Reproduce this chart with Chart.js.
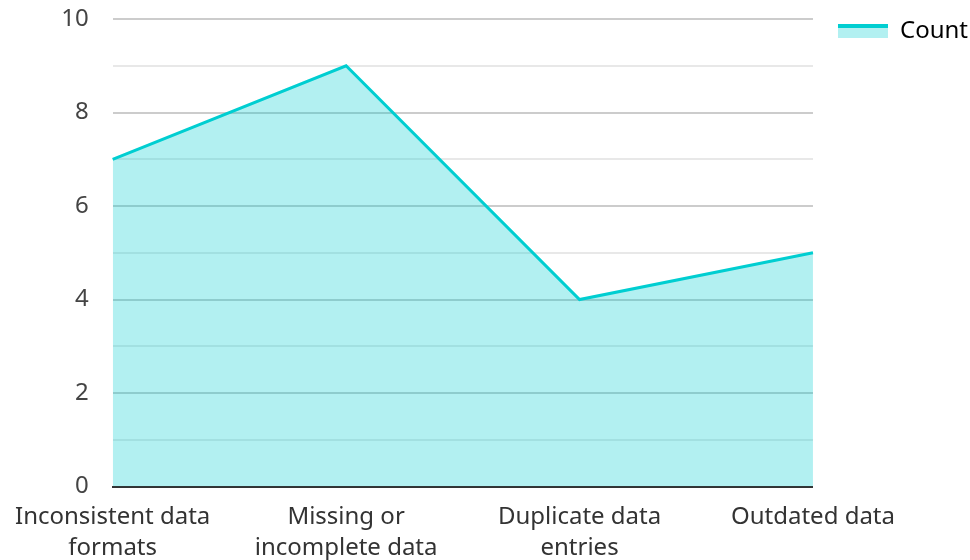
<!DOCTYPE html>
<html>
<head>
<meta charset="utf-8">
<script src="https://cdn.jsdelivr.net/npm/chart.js@4"></script>
<style>
  html, body { margin: 0; padding: 0; background: #fff; }
  #wrap { width: 970px; height: 560px; }
</style>
</head>
<body>
<div id="wrap"><canvas id="myChart"></canvas></div>
<script>
const categories = [
    ['Inconsistent data', 'formats'],
    ['Missing or', 'incomplete data'],
    ['Duplicate data', 'entries'],
    'Outdated data'
];
const counts = [7, 9, 4, 5];
const yTicks = [0, 2, 4, 6, 8, 10];

const lineColor = '#00ced1';
const fillColor = 'rgba(0, 206, 209, 0.3)';

Chart.defaults.font.family = '"Noto Sans", sans-serif';
Chart.defaults.font.size = 24;
Chart.defaults.color = '#444';

// legend box: light fill with a line along the top only
const legendTopLine = {
    id: 'legendTopLine',
    afterDraw(chart) {
        const legend = chart.legend;
        if (!legend || !legend.legendHitBoxes.length) return;
        const box = legend.legendHitBoxes[0];
        const ctx = chart.ctx;
        const bw = legend.options.labels.boxWidth;
        const bh = legend.options.labels.boxHeight;
        const top = box.top + (box.height - bh) / 2;
        ctx.save();
        ctx.fillStyle = lineColor;
        ctx.fillRect(box.left, top, bw, 4);
        ctx.restore();
    }
};

const data = {
    labels: categories,
    datasets: [{
        label: 'Count',
        data: counts,
        borderColor: lineColor,
        backgroundColor: fillColor,
        borderWidth: 3,
        fill: 'origin',
        pointRadius: 0,
        tension: 0
    }]
};

const config = {
    type: 'line',
    data: data,
    plugins: [legendTopLine],
    options: {
        responsive: true,
        maintainAspectRatio: false,
        animation: false,
        layout: { padding: { left: 0, right: -8, top: 7, bottom: -19 } },
        plugins: {
            tooltip: { enabled: false },
            legend: {
                position: 'right',
                align: 'start',
                labels: {
                    boxWidth: 50,
                    boxHeight: 14,
                    color: '#333',
                    padding: 12,
                    generateLabels(chart) {
                        return [{
                            text: 'Count',
                            fillStyle: fillColor,
                            strokeStyle: 'rgba(0,0,0,0)',
                            lineWidth: 0,
                            datasetIndex: 0
                        }];
                    }
                }
            }
        },
        scales: {
            x: {
                offset: false,
                grid: { display: false, drawTicks: false },
                border: { display: true, color: '#333', width: 2 },
                ticks: { color: '#333', padding: 15, maxRotation: 0, autoSkip: false, font: { lineHeight: 1.3 } }
            },
            y: {
                min: 0,
                max: 10,
                afterBuildTicks(scale) {
                    const t = [];
                    for (let v = 0; v <= 10; v++) t.push({ value: v });
                    scale.ticks = t;
                },
                afterFit(scale) {
                    scale.paddingTop = 19;
                    scale.paddingBottom = 0;
                },
                grid: {
                    drawTicks: false,
                    color: ctx => (yTicks.includes(ctx.tick.value) ? '#cccccc' : '#e8e8e8'),
                    lineWidth: 2
                },
                border: { display: false },
                ticks: {
                    color: '#444',
                    padding: 24,
                    callback: v => (yTicks.includes(v) ? v : '')
                }
            },
            // empty strip between plot and legend
            gap: {
                type: 'linear',
                position: 'right',
                display: true,
                grid: { display: false, drawTicks: false },
                border: { display: false },
                ticks: { display: false },
                afterFit(scale) {
                    scale.width = 13;
                    scale.paddingTop = 0;
                    scale.paddingBottom = 0;
                }
            }
        }
    }
};

new Chart(document.getElementById('myChart'), config);
</script>
</body>
</html>
